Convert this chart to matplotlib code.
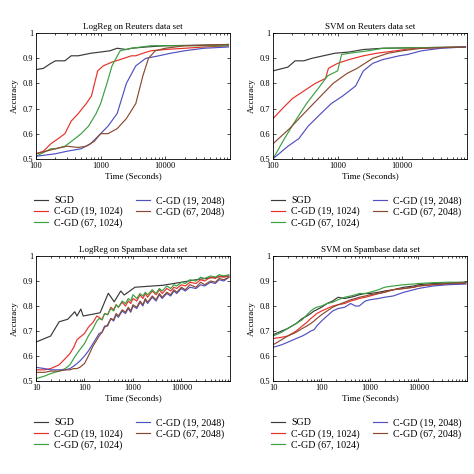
import matplotlib
matplotlib.use("Agg")
import matplotlib.pyplot as plt
from matplotlib import rcParams, ticker

# === Font and style settings ===
rcParams["font.family"] = "Liberation Serif"
TITLE_FONT_SIZE = 6.5
LABEL_FONT_SIZE = 6.5
TICK_FONT_SIZE = 6
LEGEND_FONT_SIZE = 7.2
LINE_WIDTH = 0.85

labels = ["SGD", "C-GD (19, 1024)", "C-GD (67, 1024)", "C-GD (19, 2048)", "C-GD (67, 2048)"]
colors = ["#3a3a3a", "#e8302a", "#3aa040", "#5050c0", "#8a4a30"]

# === (a) LogReg on Reuters ===
lr_reu_sgd_t = [100, 130, 170, 200, 280, 350, 450, 700, 1000, 1400, 1800, 2500, 3000, 5000, 10000, 30000, 95000]
lr_reu_sgd = [0.855, 0.86, 0.88, 0.89, 0.89, 0.91, 0.91, 0.92, 0.925, 0.93, 0.94, 0.935, 0.94, 0.945, 0.95, 0.952, 0.955]
lr_reu_r19_t = [100, 130, 170, 220, 280, 350, 450, 600, 720, 900, 1100, 1500, 2000, 3000, 3500, 4500, 6000, 10000, 20000, 40000, 95000]
lr_reu_r19 = [0.52, 0.53, 0.56, 0.58, 0.60, 0.65, 0.68, 0.72, 0.75, 0.85, 0.87, 0.885, 0.895, 0.91, 0.91, 0.92, 0.93, 0.935, 0.94, 0.945, 0.95]
lr_reu_g67_t = [100, 170, 200, 280, 400, 500, 650, 850, 1000, 1250, 1500, 2000, 3000, 6000, 95000]
lr_reu_g67 = [0.51, 0.54, 0.54, 0.55, 0.58, 0.60, 0.63, 0.68, 0.72, 0.80, 0.87, 0.93, 0.94, 0.95, 0.95]
lr_reu_b19_t = [100, 200, 300, 500, 700, 1000, 1300, 1800, 2500, 3500, 5000, 8000, 12000, 20000, 40000, 95000]
lr_reu_b19 = [0.51, 0.52, 0.53, 0.54, 0.56, 0.60, 0.63, 0.68, 0.80, 0.87, 0.90, 0.91, 0.92, 0.93, 0.94, 0.945]
lr_reu_n67_t = [100, 200, 300, 450, 600, 800, 1000, 1300, 1800, 2500, 3500, 4500, 5500, 7000, 10000, 20000, 95000]
lr_reu_n67 = [0.52, 0.54, 0.55, 0.545, 0.55, 0.57, 0.60, 0.60, 0.62, 0.66, 0.72, 0.83, 0.90, 0.93, 0.94, 0.95, 0.955]

# === (b) SVM on Reuters ===
svm_reu_sgd_t = [100, 170, 220, 300, 400, 600, 900, 1500, 2500, 5000, 95000]
svm_reu_sgd = [0.85, 0.865, 0.89, 0.89, 0.90, 0.91, 0.92, 0.925, 0.935, 0.94, 0.945]
svm_reu_r19_t = [100, 140, 200, 300, 450, 650, 720, 1000, 1500, 2500, 4000, 8000, 15000, 95000]
svm_reu_r19 = [0.66, 0.70, 0.74, 0.77, 0.80, 0.82, 0.86, 0.88, 0.895, 0.91, 0.92, 0.93, 0.94, 0.945]
svm_reu_g67_t = [100, 150, 220, 330, 500, 700, 1000, 1150, 1500, 3000, 5000, 95000]
svm_reu_g67 = [0.50, 0.58, 0.65, 0.72, 0.78, 0.83, 0.85, 0.915, 0.92, 0.93, 0.94, 0.945]
svm_reu_b19_t = [100, 170, 250, 350, 550, 800, 1200, 1900, 2500, 3500, 5000, 9000, 12000, 20000, 40000, 95000]
svm_reu_b19 = [0.50, 0.55, 0.58, 0.63, 0.68, 0.72, 0.75, 0.79, 0.85, 0.88, 0.895, 0.91, 0.915, 0.93, 0.94, 0.945]
svm_reu_n67_t = [100, 180, 300, 550, 850, 1400, 2000, 3500, 6000, 10000, 20000, 95000]
svm_reu_n67 = [0.56, 0.62, 0.68, 0.75, 0.80, 0.84, 0.86, 0.90, 0.92, 0.93, 0.94, 0.945]

# === (c) LogReg on Spambase ===
lr_spam_sgd_t = [10, 20, 30, 45, 63, 70, 84, 94, 210, 310, 410, 560, 660, 1100, 4200, 10000, 20000, 50000, 95000]
lr_spam_sgd = [0.656, 0.68, 0.737, 0.747, 0.777, 0.76, 0.788, 0.76, 0.773, 0.851, 0.817, 0.86, 0.844, 0.875, 0.883, 0.895, 0.905, 0.915, 0.92]
lr_spam_t = [10, 15, 20, 30, 40, 50, 60, 70, 80, 100, 120, 150, 180, 200, 230, 260, 300, 350, 400, 450,
             500, 600, 700, 800, 900, 1000, 1200, 1400, 1600, 1800, 2000, 2500, 3000, 3500, 4000, 5000,
             6000, 7000, 8000, 10000, 12000, 15000, 20000, 25000, 30000, 40000, 50000, 60000, 75000, 95000]
lr_spam_r19 = [0.545, 0.545, 0.55, 0.565, 0.59, 0.61, 0.635, 0.665, 0.675, 0.69, 0.715, 0.735, 0.76, 0.755, 0.745, 0.77, 0.765, 0.795, 0.785, 0.805,
               0.795, 0.815, 0.80, 0.82, 0.81, 0.83, 0.82, 0.845, 0.83, 0.85, 0.835, 0.86, 0.845, 0.865, 0.85, 0.87,
               0.86, 0.875, 0.87, 0.885, 0.88, 0.895, 0.89, 0.905, 0.90, 0.915, 0.91, 0.92, 0.915, 0.92]
lr_spam_g67 = [0.51, 0.52, 0.53, 0.54, 0.55, 0.565, 0.59, 0.61, 0.625, 0.65, 0.68, 0.71, 0.74, 0.75, 0.745, 0.77, 0.765, 0.79, 0.78, 0.805,
               0.795, 0.82, 0.81, 0.83, 0.82, 0.845, 0.83, 0.85, 0.84, 0.855, 0.845, 0.865, 0.85, 0.87, 0.86, 0.88,
               0.87, 0.885, 0.88, 0.895, 0.89, 0.905, 0.90, 0.915, 0.91, 0.92, 0.915, 0.925, 0.92, 0.925]
lr_spam_b19 = [0.555, 0.55, 0.545, 0.545, 0.545, 0.55, 0.56, 0.57, 0.58, 0.60, 0.62, 0.65, 0.675, 0.69, 0.695, 0.72, 0.72, 0.75, 0.74, 0.765,
               0.755, 0.78, 0.77, 0.79, 0.775, 0.80, 0.79, 0.815, 0.80, 0.825, 0.81, 0.835, 0.82, 0.845, 0.83, 0.85,
               0.84, 0.86, 0.85, 0.87, 0.86, 0.875, 0.87, 0.885, 0.88, 0.895, 0.89, 0.905, 0.90, 0.915]
lr_spam_n67 = [0.535, 0.535, 0.54, 0.54, 0.545, 0.545, 0.55, 0.55, 0.555, 0.57, 0.60, 0.64, 0.665, 0.68, 0.695, 0.715, 0.725, 0.75, 0.745, 0.77,
               0.76, 0.785, 0.775, 0.795, 0.78, 0.805, 0.795, 0.82, 0.805, 0.83, 0.815, 0.84, 0.825, 0.85, 0.835, 0.855,
               0.845, 0.865, 0.855, 0.875, 0.865, 0.885, 0.875, 0.895, 0.885, 0.90, 0.895, 0.91, 0.905, 0.915]

# === (d) SVM on Spambase ===
svm_spam_t = [10, 15, 20, 30, 40, 50, 60, 70, 80, 100, 130, 170, 220, 300, 400, 500, 600, 800, 1000,
              1500, 2000, 3000, 5000, 8000, 10000, 20000, 40000, 95000]
svm_spam_sgd = [0.685, 0.70, 0.71, 0.73, 0.75, 0.76, 0.77, 0.78, 0.785, 0.795, 0.81, 0.82, 0.835, 0.83, 0.835, 0.84, 0.845, 0.85, 0.85,
                0.855, 0.86, 0.865, 0.875, 0.88, 0.885, 0.89, 0.892, 0.895]
svm_spam_r19 = [0.67, 0.675, 0.68, 0.70, 0.72, 0.735, 0.75, 0.76, 0.77, 0.78, 0.79, 0.80, 0.805, 0.81, 0.82, 0.825, 0.83, 0.835, 0.84,
                0.85, 0.855, 0.865, 0.87, 0.875, 0.88, 0.885, 0.888, 0.89]
svm_spam_g67 = [0.68, 0.695, 0.71, 0.73, 0.745, 0.765, 0.78, 0.79, 0.795, 0.80, 0.81, 0.815, 0.825, 0.835, 0.84, 0.845, 0.85, 0.85, 0.855,
                0.865, 0.875, 0.88, 0.885, 0.888, 0.89, 0.893, 0.895, 0.895]
svm_spam_b19 = [0.635, 0.645, 0.655, 0.67, 0.68, 0.69, 0.70, 0.705, 0.72, 0.74, 0.76, 0.78, 0.79, 0.795, 0.81, 0.80, 0.80, 0.82, 0.825,
                0.83, 0.835, 0.84, 0.855, 0.865, 0.87, 0.88, 0.885, 0.888]
svm_spam_n67 = [0.645, 0.665, 0.68, 0.695, 0.71, 0.72, 0.73, 0.74, 0.75, 0.765, 0.78, 0.795, 0.805, 0.815, 0.825, 0.83, 0.835, 0.84, 0.845,
                0.85, 0.855, 0.865, 0.87, 0.875, 0.88, 0.885, 0.89, 0.893]

panels = [
    ("LogReg on Reuters data set", (100, 1e5), [100, 1000, 10000],
     [(lr_reu_sgd_t, lr_reu_sgd), (lr_reu_r19_t, lr_reu_r19), (lr_reu_g67_t, lr_reu_g67),
      (lr_reu_b19_t, lr_reu_b19), (lr_reu_n67_t, lr_reu_n67)]),
    ("SVM on Reuters data set", (100, 1e5), [100, 1000, 10000],
     [(svm_reu_sgd_t, svm_reu_sgd), (svm_reu_r19_t, svm_reu_r19), (svm_reu_g67_t, svm_reu_g67),
      (svm_reu_b19_t, svm_reu_b19), (svm_reu_n67_t, svm_reu_n67)]),
    ("LogReg on Spambase data set", (10, 1e5), [10, 100, 1000, 10000],
     [(lr_spam_sgd_t, lr_spam_sgd), (lr_spam_t, lr_spam_r19), (lr_spam_t, lr_spam_g67),
      (lr_spam_t, lr_spam_b19), (lr_spam_t, lr_spam_n67)]),
    ("SVM on Spambase data set", (10, 1e5), [10, 100, 1000, 10000],
     [(svm_spam_t, svm_spam_sgd), (svm_spam_t, svm_spam_r19), (svm_spam_t, svm_spam_g67),
      (svm_spam_t, svm_spam_b19), (svm_spam_t, svm_spam_n67)]),
]

# axes boxes in figure fraction (left, bottom, width, height)
boxes = [(0.076, 0.665, 0.409, 0.265), (0.576, 0.665, 0.409, 0.265),
         (0.076, 0.196, 0.409, 0.264), (0.576, 0.196, 0.409, 0.264)]

fig = plt.figure(figsize=(4.74, 4.74), dpi=100)

for (title, xlim, xticks, series), box in zip(panels, boxes):
    ax = fig.add_axes(box)
    for (t, y), lbl, c in zip(series, labels, colors):
        ax.plot(t, y, color=c, lw=LINE_WIDTH, label=lbl)
    ax.set_xscale("log")
    ax.set_xlim(*xlim)
    ax.set_ylim(0.5, 1.0)
    ax.set_xticks(xticks)
    ax.xaxis.set_major_formatter(ticker.FuncFormatter(lambda v, p: f"{int(round(v))}"))
    ax.set_yticks([0.5, 0.6, 0.7, 0.8, 0.9, 1.0])
    ax.yaxis.set_major_formatter(ticker.FuncFormatter(lambda v, p: "1" if v > 0.99 else f"{v:.1f}"))
    ax.tick_params(which="both", direction="in", top=True, right=True, labelsize=TICK_FONT_SIZE,
                   width=0.5, pad=2)
    ax.tick_params(which="major", length=2.5)
    ax.tick_params(which="minor", length=1.3)
    for s in ax.spines.values():
        s.set_linewidth(0.6)
    ax.set_title(title, fontsize=TITLE_FONT_SIZE, pad=3)
    ax.set_xlabel("Time (Seconds)", fontsize=LABEL_FONT_SIZE, labelpad=2)
    ax.set_ylabel("Accuracy", fontsize=LABEL_FONT_SIZE, labelpad=3)
    ax.legend(loc="upper left", bbox_to_anchor=(-0.045, -0.24), ncol=2, frameon=False,
              fontsize=LEGEND_FONT_SIZE, handlelength=1.4, columnspacing=1.3,
              labelspacing=0.15, handletextpad=0.6, borderaxespad=0.3)

plt.savefig("out.png", dpi=100)
plt.close()
